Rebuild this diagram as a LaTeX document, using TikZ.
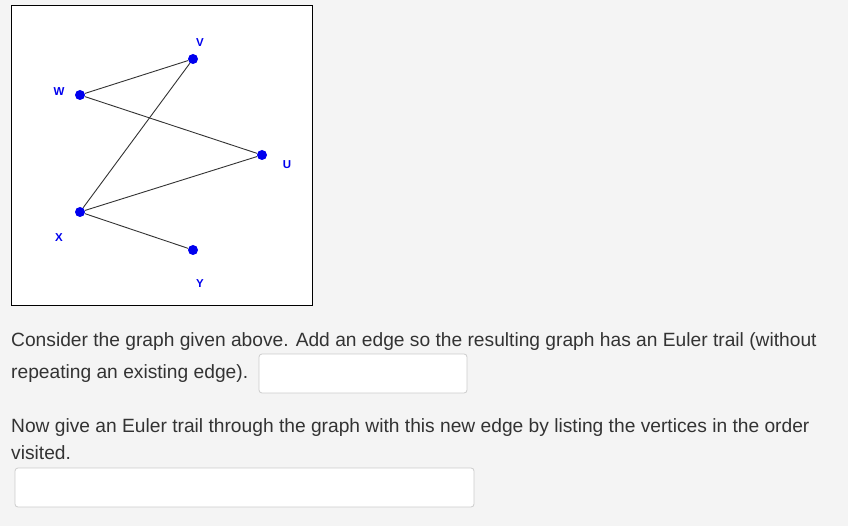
\documentclass[tikz,border=0pt]{standalone}
\usepackage{fontspec}
\setmainfont{Liberation Sans}
\definecolor{pagebg}{HTML}{F4F4F4}
\definecolor{vblue}{HTML}{0000EE}
\definecolor{boxline}{HTML}{CCCCCC}
\definecolor{txt}{HTML}{333333}
\begin{document}
\begin{tikzpicture}[x=1pt,y=-1pt,
  vtx/.style={circle,fill=vblue,inner sep=0pt,minimum size=10pt},
  vlab/.style={text=vblue,font=\fontsize{11.5}{12}\selectfont\bfseries,inner sep=0pt},
  edge/.style={draw=black!80,line width=0.9pt},
  qtext/.style={anchor=base west,inner sep=0pt,text=txt,font=\fontsize{19.2}{22}\selectfont},
  inbox/.style={draw=boxline,fill=white,rounded corners=3pt,line width=0.8pt}]
\fill[pagebg] (0,0) rectangle (848,526);
\useasboundingbox (0,0) rectangle (848,526);
\draw[fill=white,line width=1pt] (11.5,5.5) rectangle (312.5,305.5);
\node[vtx] (V) at (193,59) {};
\node[vtx] (W) at (80,95) {};
\node[vtx] (U) at (262,155) {};
\node[vtx] (X) at (80,212) {};
\node[vtx] (Y) at (193,250) {};
\node[vlab] (lV) at (200,43) {V};
\node[vlab] (lW) at (59,92) {W};
\node[vlab] (lU) at (287,165) {U};
\node[vlab] (lX) at (59,238) {X};
\node[vlab] (lY) at (200,284) {Y};
\draw[edge] (W) -- (V);
\draw[edge] (W) -- (U);
\draw[edge] (X) -- (V);
\draw[edge] (X) -- (U);
\draw[edge] (X) -- (Y);
\node[qtext] (t1) at (11,346) {Consider the graph given above. Add an edge so the resulting graph has an Euler trail (without};
\node[qtext] (t2) at (11,378) {repeating an existing edge).};
\draw[inbox] (259,354) rectangle (467,393);
\node[qtext] (t3) at (11,432) {Now give an Euler trail through the graph with this new edge by listing the vertices in the order};
\node[qtext] (t4) at (11,459) {visited.};
\draw[inbox] (15,468) rectangle (474,507);
\end{tikzpicture}
\end{document}
